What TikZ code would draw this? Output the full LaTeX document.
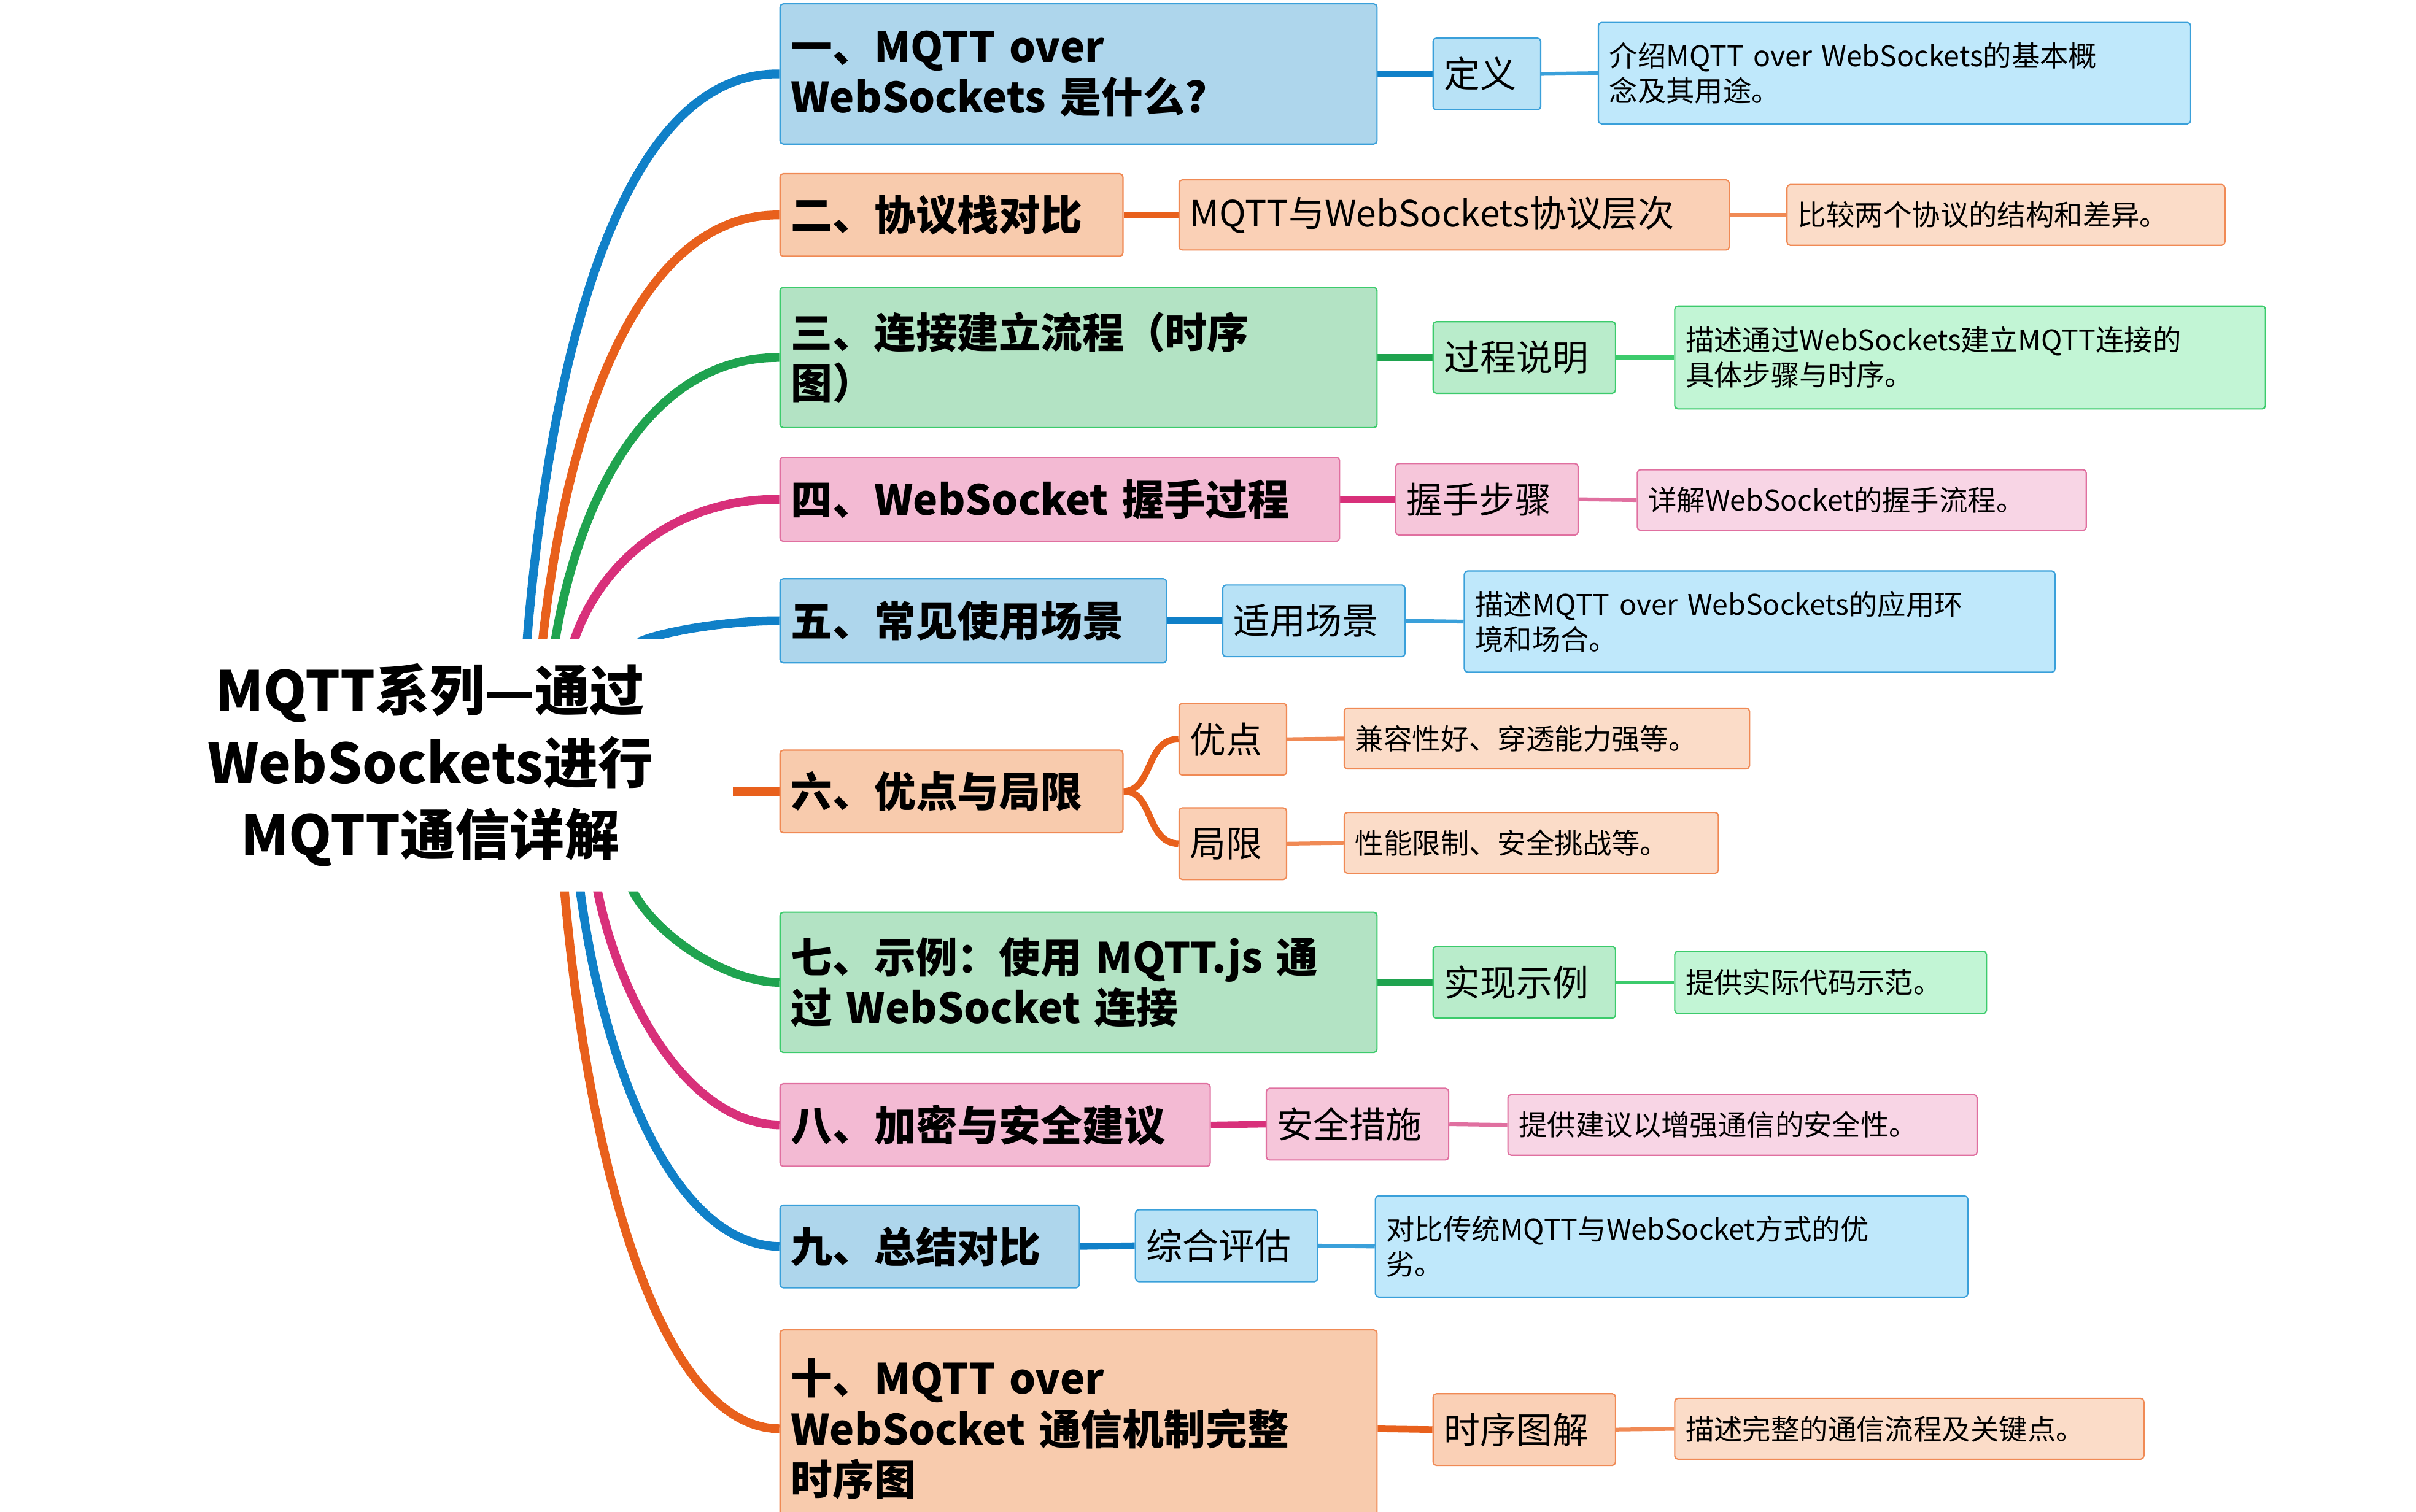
\documentclass[tikz,border=0pt]{standalone}
\usepackage{fontspec}
\setmainfont{Noto Sans CJK SC}
\usetikzlibrary{backgrounds}
\begin{document}
\definecolor{Lb}{HTML}{1080C8}\definecolor{Lo}{HTML}{E8601C}\definecolor{Lg}{HTML}{1FA34F}\definecolor{Lp}{HTML}{D8307A}
\definecolor{Fb1}{HTML}{AED6EC}\definecolor{Fo1}{HTML}{F8CBAD}\definecolor{Fg1}{HTML}{B3E3C4}\definecolor{Fp1}{HTML}{F3BAD3}
\definecolor{Fb2}{HTML}{B8E2F6}\definecolor{Fo2}{HTML}{FAD0B6}\definecolor{Fg2}{HTML}{B9ECCB}\definecolor{Fp2}{HTML}{F6C6DA}
\definecolor{Fb3}{HTML}{BFE8FB}\definecolor{Fo3}{HTML}{FBDCC8}\definecolor{Fg3}{HTML}{C2F5D5}\definecolor{Fp3}{HTML}{F8D5E5}
\definecolor{Db}{HTML}{3AA0DA}\definecolor{Do}{HTML}{F08A55}\definecolor{Dg}{HTML}{3CCB6C}\definecolor{Dp}{HTML}{E070A0}
\newcommand\mybox[7]{\pgfmathsetlengthmacro\tw{(#5-#3)*0.05cm-0.7cm}\pgfmathsetlengthmacro\th{(#6-#4)*0.05cm}%
\node[#2,anchor=north west,text width=\tw,minimum height=\th] (#1) at (#3,#4) {#7};}
\newcommand\br[5]{\draw[#1] (#2,#3) .. controls ({#2+15},{(#3+#4)/2}) and ({#2+60},#4) .. (#5.west);}
\begin{tikzpicture}[x=0.05cm,y=-0.05cm,
 bx/.style={draw,rounded corners=3pt,line width=1.2pt,align=left,inner xsep=0.35cm,inner ysep=0pt},
 l1/.style={bx,font=\bfseries\fontsize{38}{46}\selectfont},
 l2/.style={bx,font=\fontsize{33}{40}\selectfont},
 l3/.style={bx,font=\fontsize{26}{32}\selectfont},
 c1/.style={line width=8pt},c2/.style={line width=6pt},c3/.style={line width=3.5pt}]
\useasboundingbox (0,0) rectangle (1550,970);
\mybox{a1}{l1,draw=Db,fill=Fb1}{500}{2}{883}{92}{一、MQTT over\\WebSockets 是什么?}
\mybox{a2}{l1,draw=Do,fill=Fo1}{500}{111}{720}{164}{二、协议栈对比}
\mybox{a3}{l1,draw=Dg,fill=Fg1}{500}{184}{883}{274}{三、连接建立流程（时序\\图）}
\mybox{a4}{l1,draw=Dp,fill=Fp1}{500}{293}{859}{347}{四、WebSocket 握手过程}
\mybox{a5}{l1,draw=Db,fill=Fb1}{500}{371}{748}{425}{五、常见使用场景}
\mybox{a6}{l1,draw=Do,fill=Fo1}{500}{481}{720}{534}{六、优点与局限}
\mybox{a7}{l1,draw=Dg,fill=Fg1}{500}{585}{883}{675}{七、示例：使用 MQTT.js 通\\过 WebSocket 连接}
\mybox{a8}{l1,draw=Dp,fill=Fp1}{500}{695}{776}{748}{八、加密与安全建议}
\mybox{a9}{l1,draw=Db,fill=Fb1}{500}{773}{692}{826}{九、总结对比}
\mybox{a10}{l1,draw=Do,fill=Fo1}{500}{853}{883}{980}{十、MQTT over\\WebSocket 通信机制完整\\时序图}
\node[fill=white,rounded corners=12pt,minimum width=388*0.05cm,minimum height=162*0.05cm,align=center,font=\bfseries\fontsize{50}{66}\selectfont] (root) at (276,491) {MQTT系列—通过\\WebSockets进行\\MQTT通信详解};
% level 2
\mybox{b1}{l2,draw=Db,fill=Fb2}{919}{24}{988}{70}{定义}
\mybox{b2}{l2,draw=Do,fill=Fo2}{756}{115}{1109}{160}{MQTT与WebSockets协议层次}
\mybox{b3}{l2,draw=Dg,fill=Fg2}{919}{206}{1036}{252}{过程说明}
\mybox{b4}{l2,draw=Dp,fill=Fp2}{895}{297}{1012}{343}{握手步骤}
\mybox{b5}{l2,draw=Db,fill=Fb2}{784}{375}{901}{421}{适用场景}
\mybox{b6a}{l2,draw=Do,fill=Fo2}{756}{451}{825}{497}{优点}
\mybox{b6b}{l2,draw=Do,fill=Fo2}{756}{518}{825}{564}{局限}
\mybox{b7}{l2,draw=Dg,fill=Fg2}{919}{607}{1036}{653}{实现示例}
\mybox{b8}{l2,draw=Dp,fill=Fp2}{812}{698}{929}{744}{安全措施}
\mybox{b9}{l2,draw=Db,fill=Fb2}{728}{776}{845}{822}{综合评估}
\mybox{b10}{l2,draw=Do,fill=Fo2}{919}{894}{1036}{940}{时序图解}
% level 3
\mybox{d1}{l3,draw=Db,fill=Fb3}{1025}{14}{1405}{79}{介绍MQTT over WebSockets的基本概\\念及其用途。}
\mybox{d2}{l3,draw=Do,fill=Fo3}{1146}{118}{1427}{157}{比较两个协议的结构和差异。}
\mybox{d3}{l3,draw=Dg,fill=Fg3}{1074}{196}{1453}{262}{描述通过WebSockets建立MQTT连接的\\具体步骤与时序。}
\mybox{d4}{l3,draw=Dp,fill=Fp3}{1050}{301}{1338}{340}{详解WebSocket的握手流程。}
\mybox{d5}{l3,draw=Db,fill=Fb3}{939}{366}{1318}{431}{描述MQTT over WebSockets的应用环\\境和场合。}
\mybox{d6a}{l3,draw=Do,fill=Fo3}{862}{454}{1122}{493}{兼容性好、穿透能力强等。}
\mybox{d6b}{l3,draw=Do,fill=Fo3}{862}{521}{1102}{560}{性能限制、安全挑战等。}
\mybox{d7}{l3,draw=Dg,fill=Fg3}{1074}{610}{1274}{650}{提供实际代码示范。}
\mybox{d8}{l3,draw=Dp,fill=Fp3}{967}{702}{1268}{741}{提供建议以增强通信的安全性。}
\mybox{d9}{l3,draw=Db,fill=Fb3}{882}{767}{1262}{832}{对比传统MQTT与WebSocket方式的优\\劣。}
\mybox{d10}{l3,draw=Do,fill=Fo3}{1074}{897}{1375}{936}{描述完整的通信流程及关键点。}
\begin{scope}[on background layer]
\fill[white] (0,0) rectangle (1550,970);
\br{c1,Lb}{338}{412}{46}{a1}
\br{c1,Lo}{348}{412}{137}{a2}
\br{c1,Lg}{356}{412}{229}{a3}
\br{c1,Lp}{368}{412}{320}{a4}
\br{c1,Lb}{410}{412}{398}{a5}
\draw[c1,Lo] (root.east|-a6.west) -- (a6.west);
\br{c1,Lg}{405}{570}{630}{a7}
\br{c1,Lp}{383}{570}{721}{a8}
\br{c1,Lb}{372}{570}{799}{a9}
\br{c1,Lo}{362}{570}{916}{a10}
\foreach \a/\b/\c in {a1/b1/Lb,a2/b2/Lo,a3/b3/Lg,a4/b4/Lp,a5/b5/Lb,a7/b7/Lg,a8/b8/Lp,a9/b9/Lb,a10/b10/Lo}
  \draw[c2,\c] (\a.east) -- (\b.west);
\draw[c2,Lo] (a6.east) .. controls (740,507) and (735,474) .. (b6a.west);
\draw[c2,Lo] (a6.east) .. controls (740,507) and (735,541) .. (b6b.west);
\foreach \a/\b/\c in {b1/d1/Db,b2/d2/Do,b3/d3/Dg,b4/d4/Dp,b5/d5/Db,b6a/d6a/Do,b6b/d6b/Do,b7/d7/Dg,b8/d8/Dp,b9/d9/Db,b10/d10/Do}
  \draw[c3,\c] (\a.east) -- (\b.west);
\end{scope}
\end{tikzpicture}
\end{document}
